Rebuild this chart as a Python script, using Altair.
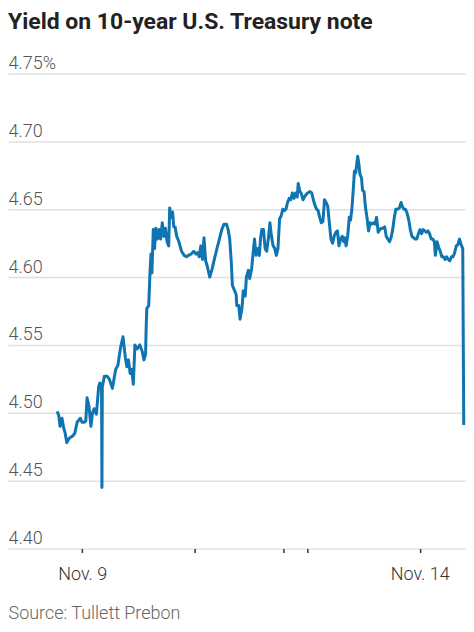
import altair as alt
import pandas as pd

# Trading-time hours since Nov. 9 00:00 (weekend compressed)
hours = [
    -5.35, -5.00, -4.73, -4.32, -3.97, -3.64, -3.29, -2.82, -2.47, -2.00,
    -1.58, -1.09, -0.41, -0.06, 0.47, 0.76, 1.03, 1.44, 1.85, 2.20,
    2.53, 3.02, 3.50, 3.76, 4.12, 4.20, 4.28, 4.73, 5.29, 5.76,
    6.44, 7.14, 7.61, 8.17, 8.70, 9.19, 9.52, 9.87, 10.22, 10.55,
    10.90, 11.24, 11.72, 12.28, 12.82, 13.17, 13.51, 13.64, 13.78, 14.19,
    14.46, 14.67, 14.87, 15.16, 15.43, 15.70, 16.04, 16.39, 16.72, 17.07,
    17.42, 17.75, 18.10, 18.45, 18.66, 18.99, 19.27, 19.54, 19.81, 20.16,
    20.63, 21.19, 21.74, 22.22, 22.69, 23.24, 23.80, 24.27, 24.62, 24.95,
    25.30, 25.65, 25.98, 26.33, 26.68, 27.21, 27.71, 28.18, 28.74, 29.27,
    29.77, 30.24, 30.79, 31.12, 31.47, 31.82, 32.03, 32.50, 32.85, 32.97,
    33.39, 33.67, 34.08, 34.36, 34.77, 35.03, 35.44, 35.73, 36.14, 36.41,
    36.76, 37.09, 37.50, 37.79, 38.06, 38.32, 38.67, 39.02, 39.35, 39.70,
    40.05, 40.38, 40.73, 41.08, 41.41, 41.76, 42.11, 42.44, 42.79, 43.14,
    43.46, 43.81, 44.16, 44.49, 44.84, 45.19, 45.52, 45.87, 46.08, 46.43,
    46.69, 47.11, 47.58, 48.07, 48.61, 48.96, 49.31, 49.64, 49.99, 50.33,
    50.66, 51.01, 51.36, 51.69, 52.04, 52.39, 52.72, 53.07, 53.42, 53.75,
    54.10, 54.45, 54.78, 55.13, 55.48, 55.81, 56.01, 56.30, 56.63, 56.98,
    57.25, 57.53, 57.86, 58.07, 58.36, 58.56, 58.77, 59.04, 59.24, 59.59,
    59.80, 60.13, 60.41, 60.83, 61.09, 61.44, 61.77, 62.12, 62.47, 62.80,
    63.15, 63.50, 63.83, 64.18, 64.53, 64.86, 65.21, 65.56, 65.89, 66.24,
    66.59, 66.91, 67.26, 67.68, 68.02, 68.29, 68.64, 68.97, 69.32, 69.67,
    70.00, 70.35, 70.70, 71.03, 71.38, 71.73, 72.06, 72.41, 72.76, 73.09,
    73.43, 73.78, 74.11, 74.46, 74.81, 75.14, 75.35, 75.70, 76.05, 76.38,
    76.73, 77.08, 77.41, 77.75, 78.10, 78.43, 78.78, 79.13, 79.46, 79.81,
    80.16, 80.49, 80.84, 81.19, 81.40,
]

yields = [
    4.501, 4.498, 4.490, 4.496, 4.489, 4.485, 4.478, 4.481, 4.482, 4.483,
    4.485, 4.493, 4.496, 4.493, 4.493, 4.494, 4.511, 4.505, 4.490, 4.500,
    4.503, 4.499, 4.519, 4.522, 4.519, 4.445, 4.519, 4.527, 4.527, 4.525,
    4.518, 4.532, 4.535, 4.548, 4.556, 4.541, 4.534, 4.539, 4.529, 4.532,
    4.521, 4.550, 4.547, 4.550, 4.545, 4.539, 4.543, 4.563, 4.577, 4.579,
    4.604, 4.617, 4.603, 4.635, 4.621, 4.636, 4.628, 4.635, 4.628, 4.640,
    4.630, 4.636, 4.626, 4.623, 4.651, 4.644, 4.648, 4.637, 4.637, 4.630,
    4.626, 4.619, 4.616, 4.615, 4.616, 4.617, 4.619, 4.617, 4.618, 4.615,
    4.623, 4.613, 4.629, 4.612, 4.608, 4.600, 4.606, 4.613, 4.621, 4.628,
    4.635, 4.639, 4.639, 4.635, 4.628, 4.610, 4.594, 4.590, 4.587, 4.579,
    4.579, 4.569, 4.577, 4.590, 4.586, 4.600, 4.605, 4.599, 4.606, 4.616,
    4.628, 4.616, 4.621, 4.616, 4.629, 4.635, 4.635, 4.621, 4.619, 4.628,
    4.640, 4.630, 4.623, 4.621, 4.616, 4.621, 4.643, 4.645, 4.650, 4.649,
    4.650, 4.655, 4.658, 4.657, 4.662, 4.658, 4.662, 4.659, 4.669, 4.663,
    4.662, 4.657, 4.660, 4.662, 4.663, 4.662, 4.657, 4.653, 4.650, 4.649,
    4.644, 4.640, 4.641, 4.657, 4.655, 4.652, 4.640, 4.628, 4.625, 4.630,
    4.633, 4.634, 4.623, 4.628, 4.630, 4.626, 4.629, 4.623, 4.630, 4.644,
    4.642, 4.650, 4.666, 4.678, 4.677, 4.683, 4.689, 4.683, 4.676, 4.673,
    4.664, 4.663, 4.652, 4.642, 4.634, 4.640, 4.639, 4.640, 4.639, 4.644,
    4.633, 4.635, 4.636, 4.636, 4.637, 4.630, 4.628, 4.626, 4.629, 4.635,
    4.644, 4.650, 4.650, 4.651, 4.655, 4.652, 4.650, 4.650, 4.647, 4.642,
    4.635, 4.630, 4.629, 4.628, 4.628, 4.632, 4.635, 4.632, 4.635, 4.634,
    4.633, 4.634, 4.632, 4.628, 4.628, 4.626, 4.616, 4.626, 4.622, 4.619,
    4.615, 4.615, 4.613, 4.615, 4.613, 4.612, 4.615, 4.615, 4.618, 4.623,
    4.624, 4.628, 4.624, 4.621, 4.491,
]

x_ticks = [0, 24, 43, 48, 72]
y_ticks = [4.40, 4.45, 4.50, 4.55, 4.60, 4.65, 4.70, 4.75]

df = pd.DataFrame({"hours": hours, "yield": yields})

LABEL_FONT = "Roboto"

chart = alt.Chart(df).mark_line(
    color="#0f74b2", strokeWidth=3, strokeJoin="round"
).encode(
    x=alt.X(
        "hours:Q",
        scale=alt.Scale(domain=[-15.84, 81.67], nice=False, zero=False),
        axis=alt.Axis(
            values=x_ticks,
            labelExpr="datum.value == 0 ? 'Nov. 9' : (datum.value == 72 ? 'Nov. 14' : '')",
            grid=False, domain=False,
            tickSize=4, tickWidth=1.5, tickColor="#333",
            labelPadding=13, labelFontSize=18, labelColor="#333",
            labelFont=LABEL_FONT, labelFontWeight=300, labelOverlap=False,
            title="Source: Tullett Prebon", titleX=0, titleY=56,
            titleAlign="left", titleAnchor="start", titleBaseline="top",
            titleFontWeight=300, titleFontSize=18, titleColor="#666",
            titleFont=LABEL_FONT,
        ),
    ),
    y=alt.Y(
        "yield:Q",
        scale=alt.Scale(domain=[4.40, 4.75], nice=False, zero=False),
        axis=alt.Axis(
            values=y_ticks,
            labelExpr="datum.value == 4.75 ? '4.75%' : format(datum.value, '.2f')",
            grid=True, gridColor="#e0e0e0", gridWidth=1.5,
            domain=False, ticks=False, tickSize=0,
            labelAlign="left", labelBaseline="alphabetic",
            labelPadding=0, labelOffset=-5,
            labelFontSize=18, labelColor="#555", labelFont=LABEL_FONT,
            labelFontWeight=300, labelOverlap=False, title=None,
        ),
    ),
).properties(
    width=458,
    height=476,
    padding={"top": 2, "left": 0, "right": 0, "bottom": 0},
    title=alt.TitleParams(
        "Yield on 10-year U.S. Treasury note",
        anchor="start", fontSize=23, fontWeight="bold", font="Roboto",
        color="#222", offset=21,
    ),
).configure_view(stroke=None)

chart.save("out.html", embed_options={"renderer": "svg", "actions": False})
